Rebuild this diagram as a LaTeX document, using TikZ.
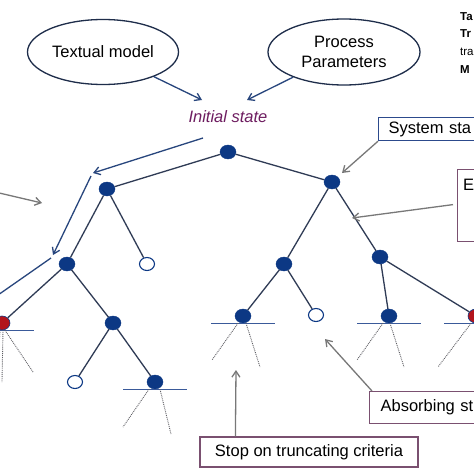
\documentclass[tikz,border=0pt]{standalone}
\usepackage{fontspec}
\setmainfont{Liberation Sans}
\usetikzlibrary{shapes.geometric,arrows.meta,calc}
\definecolor{navyc}{RGB}{12,56,132}
\definecolor{edgec}{RGB}{47,59,85}
\definecolor{pathc}{RGB}{40,70,125}
\definecolor{grayc}{RGB}{120,120,120}
\definecolor{dotc}{RGB}{95,95,100}
\definecolor{redc}{RGB}{178,20,28}
\definecolor{purpc}{RGB}{110,29,96}
\definecolor{boxc}{RGB}{122,80,112}
\definecolor{sysc}{RGB}{44,74,140}
\definecolor{barc}{RGB}{58,90,154}
\definecolor{ellc}{RGB}{30,45,74}
\begin{document}
\begin{tikzpicture}[x=1pt,y=-1pt,
  bigfont/.style={font=\fontsize{16.5pt}{20pt}\selectfont},
  snode/.style={ellipse, fill=navyc, draw=navyc, minimum width=16pt, minimum height=14pt, inner sep=0pt},
  onode/.style={ellipse, fill=white, draw=navyc, line width=1.1pt, minimum width=15pt, minimum height=13pt, inner sep=0pt},
  rnode/.style={ellipse, fill=redc, draw=navyc, line width=0.6pt, minimum width=16pt, minimum height=14pt, inner sep=0pt},
  tedge/.style={draw=edgec, line width=1.3pt},
  leaf/.style={draw=dotc, densely dotted, line width=0.9pt},
  tbar/.style={draw=barc, line width=1.3pt},
  patharrow/.style={draw=pathc, line width=1.3pt, -{Straight Barb[length=6pt,width=8pt]}},
  grayarrow/.style={draw=grayc, line width=1.3pt, -{Straight Barb[length=6pt,width=8pt]}},
  ellnode/.style={ellipse, draw=ellc, line width=1.3pt, inner sep=0pt, bigfont, align=center},
  lbox/.style={draw=boxc, line width=1.2pt, fill=white, bigfont, inner ysep=0pt},
  sbox/.style={draw=sysc, line width=1.2pt, fill=white, bigfont, inner ysep=0pt},
  toptxt/.style={anchor=west, inner sep=0pt, font=\fontsize{11.5pt}{14pt}\selectfont}
]
\useasboundingbox (0,0) rectangle (474,474);
\clip (0,0) rectangle (474,474);
\fill[white] (0,0) rectangle (474,474);

% ellipses
\node[ellnode, minimum width=151pt, minimum height=65pt] (tm) at (103,52) {Textual model};
\node[ellnode, minimum width=152pt, minimum height=66pt] (pp) at (344,52) {Process\\Parameters};
\node[text=purpc, font=\fontsize{16.5pt}{20pt}\selectfont\itshape] (init) at (228,117) {Initial state};
\coordinate (ia) at (202,100);
\coordinate (ib) at (247,100);
\draw[patharrow] (tm) -- (ia);
\draw[patharrow] (pp) -- (ib);

% top right text
\node[toptxt, font=\fontsize{11.5pt}{14pt}\selectfont\bfseries] (t1) at (460,17) {Ta};
\node[toptxt, font=\fontsize{11.5pt}{14pt}\selectfont\bfseries] (t2) at (460,34) {Tr};
\node[toptxt] (t3) at (460,52) {tra};
\node[toptxt, font=\fontsize{11.5pt}{14pt}\selectfont\bfseries] (t4) at (460,70) {M};

% tree nodes
\node[snode] (root) at (228,152) {};
\node[snode] (L) at (107,189) {};
\node[snode] (R) at (332,182) {};
\node[snode] (LL) at (67,264) {};
\node[onode] (LRo) at (147,264) {};
\node[snode] (RL) at (284,264) {};
\node[snode] (RR) at (380,257) {};
\node[rnode] (LLL) at (2,323) {};
\node[snode] (LLR) at (113,323) {};
\node[snode] (RLL) at (243,316) {};
\node[onode] (RLRo) at (316,315) {};
\node[snode] (RRL) at (389,316) {};
\node[rnode] (RRR) at (476,316) {};
\node[onode] (LLRL) at (75,382) {};
\node[snode] (LLRR) at (155,382) {};

% edges
\draw[tedge] (root) -- (L);
\draw[tedge] (root) -- (R);
\draw[tedge] (L) -- (LL);
\draw[tedge] (L) -- (LRo);
\draw[tedge] (LL) -- (LLL);
\draw[tedge] (LL) -- (LLR);
\draw[tedge] (LLR) -- (LLRL);
\draw[tedge] (LLR) -- (LLRR);
\draw[tedge] (R) -- (RL);
\draw[tedge] (R) -- (RR);
\draw[tedge] (RL) -- (RLL);
\draw[tedge] (RL) -- (RLRo);
\draw[tedge] (RR) -- (RRL);
\draw[tedge] (RR) -- (RRR);

% truncation bars and dotted continuations
\foreach \n in {LLL,RLL,RRL,RRR,LLRR}{
  \draw[tbar] ($(\n.south)+(-32,0)$) -- ($(\n.south)+(32,0)$);
}
\draw[leaf] ($(LLRR.south)+(-6,0)$) -- (123,427);
\draw[leaf] ($(LLRR.south)+(5,0)$) -- (171,434);
\draw[leaf] ($(RLL.south)+(-5,0)$) -- (212,360);
\draw[leaf] ($(RLL.south)+(3,0)$) -- (260,367);
\draw[leaf] ($(RRL.south)+(-6,0)$) -- (357,360);
\draw[leaf] ($(RRL.south)+(1,0)$) -- (404,367);
\draw[leaf] ($(RRR.south)+(-5,0)$) -- (438,367);
\draw[leaf] ($(LLL.south)+(3,0)$) -- (33,372);
\draw[leaf] ($(LLL.south)+(1,0)$) -- (2,382);
\draw[leaf] ($(LLL.south)+(-2,0)$) -- (-3,382);

% trajectory path
\coordinate (p0) at (203,138);
\coordinate (p1) at (93,173);
\coordinate (p1b) at (91,176);
\coordinate (p2) at (53,255);
\coordinate (p2b) at (51,258);
\coordinate (p3) at (-12,302);
\draw[patharrow] (p0) -- (p1);
\draw[patharrow] (p1b) -- (p2);
\draw[draw=pathc, line width=1.3pt] (p2b) -- (p3);

% boxes
\node[sbox, anchor=north west, text width=150pt, align=left, minimum height=23pt, inner xsep=10pt] (sys) at (378,117) {System sta};
\node[lbox, anchor=north west, minimum width=80pt, minimum height=72pt] (ebox) at (457,169) {};
\node[anchor=west, bigfont, inner sep=0pt] (etxt) at (463,185) {E};
\node[lbox, anchor=north west, text width=150pt, align=left, minimum height=32pt, inner xsep=11pt] (abs) at (369,391) {Absorbing st};
\node[lbox, minimum width=218pt, minimum height=30pt] (stop) at (309,452) {Stop on truncating criteria};

% gray arrows
\coordinate (lft) at (-5,192);
\coordinate (lfte) at (42,203);
\coordinate (syse) at (342,173);
\coordinate (ee) at (352,218);
\coordinate (abse) at (325,339);
\coordinate (stope) at (236,370);
\draw[grayarrow] (lft) -- (lfte);
\draw[grayarrow] (sys.south west) -- (syse);
\draw[grayarrow] ($(ebox.west)+(-4,-1)$) -- (ee);
\draw[grayarrow] ($(abs.north west)+(3,0)$) -- (abse);
\draw[grayarrow] ($(stop.north west)+(36,0)$) -- (stope);
\end{tikzpicture}
\end{document}
